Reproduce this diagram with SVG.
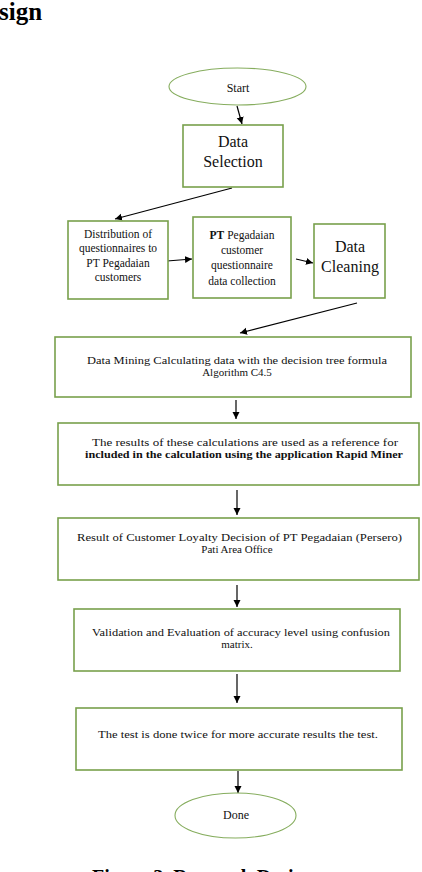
<svg xmlns="http://www.w3.org/2000/svg" width="422" height="872" viewBox="0 0 422 872">
<style>
.box{fill:#fff;stroke:#78a04c;stroke-width:1.6}
.ell{fill:#fff;stroke:#86ad5e;stroke-width:1.1}
.t{font-family:"Liberation Serif","Times New Roman",serif;fill:#111;text-anchor:middle}
.s{font-size:11.5px}
.m{font-size:11px}
.b{font-size:16px}
.h{font-family:"Liberation Serif","Times New Roman",serif;font-weight:bold;fill:#000}
.c{stroke:#000;stroke-width:1.2;fill:none;marker-end:url(#ah)}
</style>
<defs>
<marker id="ah" markerWidth="8" markerHeight="8" refX="7" refY="4" orient="auto" markerUnits="userSpaceOnUse">
<path d="M0,0.5 L7,4 L0,7.5 Z" fill="#000"/>
</marker>
</defs>
<rect width="422" height="872" fill="#fff"/>
<text class="h" x="-1" y="20" font-size="25">sign</text>
<text class="h" x="92" y="884" font-size="20">Figure 3. Research Design</text>

<g id="connectors">
<line class="c" x1="237" y1="106" x2="242" y2="124"/>
<line class="c" x1="232" y1="188" x2="115" y2="219"/>
<line class="c" x1="167" y1="261" x2="192" y2="259"/>
<line class="c" x1="296" y1="259" x2="313" y2="263"/>
<line class="c" x1="357" y1="303" x2="240" y2="333"/>
<line class="c" x1="236" y1="400" x2="236" y2="419"/>
<line class="c" x1="237" y1="490" x2="237" y2="515"/>
<line class="c" x1="237" y1="585" x2="237" y2="607"/>
<line class="c" x1="237" y1="674" x2="237" y2="703"/>
<line class="c" x1="238" y1="771" x2="238" y2="793"/>
</g>

<g id="start">
<ellipse class="ell" cx="237.5" cy="86.5" rx="68.5" ry="18.5"/>
<text class="t" x="238" y="92" font-size="12">Start</text>
</g>

<g id="data-selection">
<rect class="box" x="183" y="125" width="100" height="62"/>
<text class="t b" x="233" y="147">Data</text>
<text class="t b" x="233" y="167">Selection</text>
</g>

<g id="distribution">
<rect class="box" x="68" y="221" width="100" height="78"/>
<text class="t s" x="118" y="238">Distribution of</text>
<text class="t s" x="118" y="252">questionnaires to</text>
<text class="t s" x="118" y="267">PT Pegadaian</text>
<text class="t s" x="118" y="281">customers</text>
</g>

<g id="collection">
<rect class="box" x="193" y="217" width="98" height="81"/>
<text class="t s" x="242" y="239"><tspan font-weight="bold">PT</tspan> Pegadaian</text>
<text class="t s" x="242" y="254">customer</text>
<text class="t s" x="242" y="269">questionnaire</text>
<text class="t s" x="242" y="285">data collection</text>
</g>

<g id="data-cleaning">
<rect class="box" x="314" y="224" width="71" height="74"/>
<text class="t b" x="350" y="252">Data</text>
<text class="t b" x="350" y="272">Cleaning</text>
</g>

<g id="data-mining">
<rect class="box" x="55" y="337" width="356" height="60"/>
<text class="t m" x="237" y="364" textLength="300" lengthAdjust="spacingAndGlyphs">Data Mining Calculating data with the decision tree formula</text>
<text class="t m" x="237" y="376">Algorithm C4.5</text>
</g>

<g id="results">
<rect class="box" x="58" y="423" width="361" height="62"/>
<text class="t m" x="245" y="446" textLength="306" lengthAdjust="spacingAndGlyphs">The results of these calculations are used as a reference for</text>
<text class="t m" x="244" y="458" textLength="318" lengthAdjust="spacingAndGlyphs" font-weight="bold">included in the calculation using the application Rapid Miner</text>
</g>

<g id="loyalty">
<rect class="box" x="58" y="518" width="361" height="62"/>
<text class="t m" x="239.5" y="541" textLength="325" lengthAdjust="spacingAndGlyphs">Result of Customer Loyalty Decision of PT Pegadaian (Persero)</text>
<text class="t m" x="237" y="553">Pati Area Office</text>
</g>

<g id="validation">
<rect class="box" x="74" y="609" width="326" height="62"/>
<text class="t m" x="241" y="636" textLength="298" lengthAdjust="spacingAndGlyphs">Validation and Evaluation of accuracy level using confusion</text>
<text class="t m" x="237" y="648">matrix.</text>
</g>

<g id="test">
<rect class="box" x="76" y="708" width="326" height="62"/>
<text class="t m" x="238" y="738" textLength="280" lengthAdjust="spacingAndGlyphs">The test is  done twice for more accurate results the test.</text>
</g>

<g id="done">
<ellipse class="ell" cx="235.5" cy="815.5" rx="60.5" ry="22.5"/>
<text class="t" x="236" y="819" font-size="12">Done</text>
</g>
</svg>
